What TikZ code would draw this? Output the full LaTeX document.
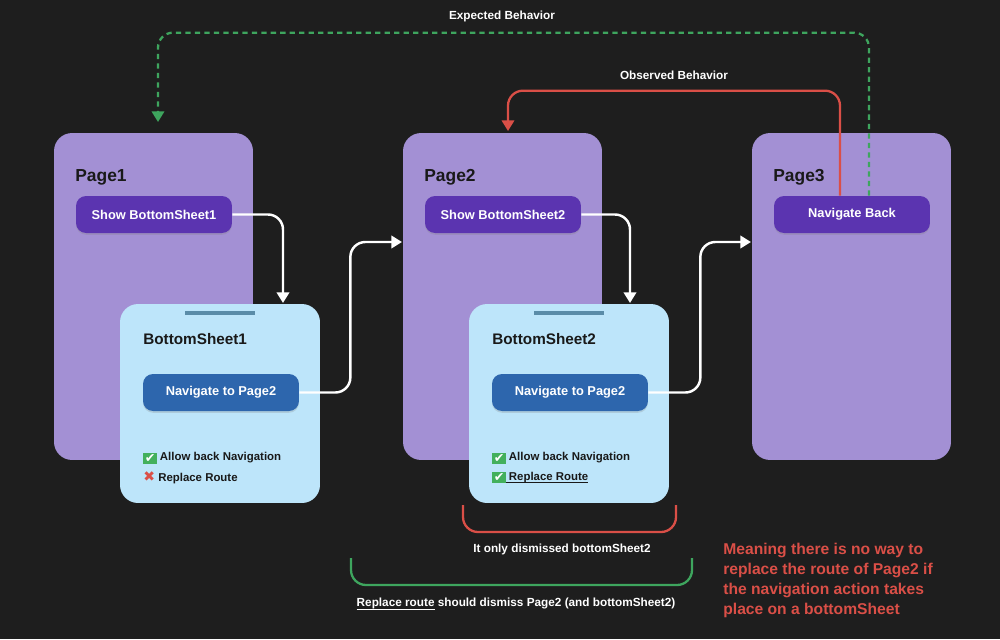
\documentclass[tikz,border=0pt]{standalone}
\usepackage{fontspec}
\setmainfont{Liberation Sans}
\newfontfamily\symfont{DejaVu Sans}
\usetikzlibrary{arrows.meta,calc,shadows}
\definecolor{bgcol}{HTML}{1E1E1E}
\definecolor{pagecol}{HTML}{A390D4}
\definecolor{btncol}{HTML}{5B34B0}
\definecolor{sheetcol}{HTML}{BDE5FA}
\definecolor{navcol}{HTML}{2D66AD}
\definecolor{handlecol}{HTML}{5A8CA8}
\definecolor{obscol}{HTML}{DA4F47}
\definecolor{expcol}{HTML}{3EA55E}
\definecolor{okgreen}{HTML}{43B05C}
\newcommand\okmark{{\setlength{\fboxsep}{0.8pt}\raisebox{-0.8pt}{\colorbox{okgreen}{\textcolor{white}{\symfont\fontsize{7.2}{7.2}\selectfont ✔}}}}}
\newcommand\nomark{\textcolor{obscol}{\symfont\fontsize{8}{8}\selectfont ✖}}
\newcommand\undl[1]{\setbox0\hbox{#1}\rlap{\rule[-1.8pt]{\wd0}{0.5pt}}\box0\relax}
\begin{document}
\begin{tikzpicture}[
		x=0.02cm, y=-0.02cm,
		every node/.style={inner sep=0pt},
		pagebox/.style={fill=pagecol, rounded corners=0.36cm, minimum width=3.98cm, minimum height=6.54cm},
		sheetbox/.style={fill=sheetcol, rounded corners=0.36cm, minimum width=4cm, minimum height=3.98cm},
		btn/.style={fill=btncol, text=white, rounded corners=0.2cm, minimum width=3.12cm, minimum height=0.74cm,
			drop shadow={opacity=0.25, shadow xshift=0pt, shadow yshift=-1pt}, font=\fontsize{7.3}{8}\selectfont\bfseries},
		navbtn/.style={btn, fill=navcol},
		title/.style={anchor=west, text=black!90, font=\fontsize{9.9}{11}\selectfont\bfseries},
		subtitle/.style={anchor=west, text=black!90, font=\fontsize{8.7}{10}\selectfont\bfseries},
		rule/.style={anchor=west, text=black!90, font=\fontsize{6.5}{7}\selectfont\bfseries},
		note/.style={text=white, font=\fontsize{6.7}{7}\selectfont\bfseries},
		flow/.style={white, line width=1.4pt, rounded corners=0.3cm, -{Triangle[width=7pt,length=6pt]}},
		handlebar/.style={handlecol, line width=2.2pt}
	]
  \fill[bgcol] (0,0) rectangle (1000,639);
  \useasboundingbox (0,0) rectangle (1000,639);

  \node (page_1) [pagebox] at (153.5,296.5) {};
  \node (page_2) [pagebox] at (502.5,296.5) {};
  \node (page_3) [pagebox] at (851.5,296.5) {};
  \node (page_1_label) [title] at (75,177.5) {Page1};
  \node (page_2_label) [title] at (424,177.5) {Page2};
  \node (page_3_label) [title] at (773,177.5) {Page3};
  \node (show_1) [btn] at (154,214.5) {Show BottomSheet1};
  \node (show_2) [btn] at (503,214.5) {Show BottomSheet2};
  \node (back) [btn] at (852,214.5) {Navigate Back};

  \node (sheet_1) [sheetbox] at (220,403.5) {};
  \node (sheet_2) [sheetbox] at (569,403.5) {};
  \draw[handlebar] ([yshift=-0.18cm]sheet_1.north) ++(-35,0) -- ++(70,0);
  \draw[handlebar] ([yshift=-0.18cm]sheet_2.north) ++(-35,0) -- ++(70,0);
  \node (sheet_1_label) [subtitle] at (143,339) {BottomSheet1};
  \node (sheet_2_label) [subtitle] at (492,339) {BottomSheet2};
  \node (nav_1) [navbtn] at (221,392.5) {Navigate to Page2};
  \node (nav_2) [navbtn] at (570,392.5) {Navigate to Page2};
  \node (allow_1) [rule] at (143,458) {\okmark\ Allow back Navigation};
  \node (replace_1) [rule] at (143,477.5) {\nomark\ Replace Route};
  \node (allow_2) [rule] at (492,458) {\okmark\ Allow back Navigation};
  \node (replace_2) [rule] at (492,477.5) {\undl{\okmark\ Replace Route}};

  \coordinate (in_1) at (283,303);
  \coordinate (in_2) at (402,242);
  \coordinate (in_3) at (630,303);
  \coordinate (in_4) at (751,242);
  \draw[flow] (show_1.east) -| (in_1);
  \draw[flow] (nav_1.east) -- ++(51,0) |- (in_2);
  \draw[flow] (show_2.east) -| (in_3);
  \draw[flow] (nav_2.east) -- ++(52,0) |- (in_4);

  \coordinate (obs_in) at (508,131);
  \coordinate (exp_in) at (158,122);
  \draw[obscol, line width=1.3pt, rounded corners=0.3cm, -{Triangle[width=7pt,length=6pt]}]
    ($(back.north)+(-12,0)$) -- ++(0,-105) -| (obs_in);
  \draw[expcol, line width=1.3pt, dash pattern=on 3pt off 2.4pt, rounded corners=0.3cm, -{Triangle[width=7pt,length=6pt]}]
    ($(back.north)+(17,0)$) -- ++(0,-163) -| (exp_in);
  \node (exp_label) [note] at (502,16) {Expected Behavior};
  \node (obs_label) [note] at (674,75) {Observed Behavior};

  \draw[obscol, line width=1.3pt, rounded corners=0.3cm] (463,505) -- (463,532) -- (676,532) -- (676,505);
  \node (only_label) [note] at (562,549) {It only dismissed bottomSheet2};
  \draw[expcol, line width=1.3pt, rounded corners=0.3cm] (351,558) -- (351,585) -- (692,585) -- (692,558);
  \node (should_label) [note] at (516,604) {\undl{Replace route} should dismiss Page2 (and bottomSheet2)};

  \node (meaning) [anchor=north west, align=left, text=obscol, font=\fontsize{8.9}{11.3}\selectfont\bfseries] at (723,543)
    {Meaning there is no way to\\replace the route of Page2 if\\the navigation action takes\\place on a bottomSheet};
\end{tikzpicture}
\end{document}
